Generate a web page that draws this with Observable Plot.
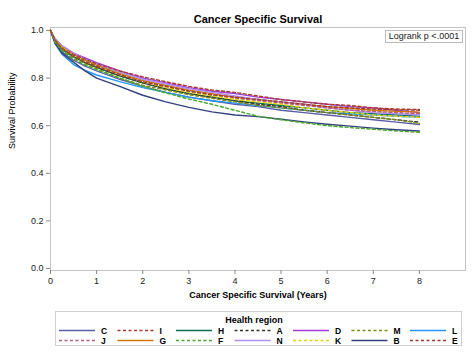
<!DOCTYPE html>
<html>
<head>
<meta charset="utf-8">
<script src="https://cdn.jsdelivr.net/npm/d3@7"></script>
<script src="https://cdn.jsdelivr.net/npm/@observablehq/plot@0.6"></script>
<style>
  body { margin: 0; background: white; font-family: "Liberation Sans", Arial, sans-serif; }
  #wrap { position: relative; width: 474px; height: 355px; }
  #logrank { position: absolute; left: 385px; top: 30px; width: 76px; height: 11px;
    border: 1px solid #bbb; font-size: 9px; line-height: 11px; text-align: center; color: #222; background: white; }
  #legend { position: absolute; left: 0; top: 310px; }
</style>
</head>
<body>
<div id="wrap">
  <div id="chart"></div>
  <div id="logrank">Logrank p &lt;.0001</div>
  <div id="legend"></div>
</div>
<script>
const title = "Cancer Specific Survival";
const xLabel = "Cancer Specific Survival (Years)";
const yLabel = "Survival Probability";
const legendTitle = "Health region";
const xTicks = [0, 1, 2, 3, 4, 5, 6, 7, 8];
const yTicks = [0, 0.2, 0.4, 0.6, 0.8, 1.0];

const times = [0, 0.1, 0.25, 0.5, 0.75, 1, 1.5, 2, 2.5, 3, 3.5, 4, 4.5, 5, 5.5, 6, 6.5, 7, 7.5, 8];

const survC = [1, .950, .910, .875, .850, .830, .795, .765, .740, .720, .705, .690, .680, .665, .655, .645, .635, .625, .615, .605];
const survI = [1, .960, .930, .900, .880, .860, .830, .805, .785, .765, .750, .740, .725, .710, .700, .690, .685, .675, .670, .668];
const survH = [1, .955, .920, .890, .865, .845, .810, .780, .755, .735, .720, .705, .695, .685, .675, .665, .655, .650, .645, .640];
const survA = [1, .955, .925, .890, .865, .845, .810, .780, .755, .735, .720, .705, .690, .680, .665, .655, .645, .635, .625, .615];
const survD = [1, .965, .935, .905, .885, .865, .830, .800, .780, .760, .745, .735, .720, .710, .700, .690, .680, .675, .665, .655];
const survM = [1, .955, .920, .885, .860, .840, .800, .770, .750, .730, .715, .700, .685, .675, .665, .655, .645, .635, .625, .610];
const survL = [1, .945, .900, .857, .832, .813, .785, .760, .740, .720, .705, .695, .685, .675, .665, .655, .650, .645, .640, .635];
const survJ = [1, .960, .925, .895, .870, .850, .815, .785, .765, .745, .730, .715, .705, .695, .685, .675, .665, .660, .655, .650];
const survG = [1, .960, .930, .900, .875, .855, .820, .790, .770, .750, .735, .720, .710, .700, .690, .680, .672, .665, .660, .657];
const survF = [1, .950, .915, .880, .855, .835, .800, .765, .738, .712, .690, .665, .640, .625, .612, .600, .592, .585, .578, .572];
const survN = [1, .965, .935, .905, .880, .860, .825, .795, .775, .755, .740, .725, .710, .700, .690, .675, .665, .655, .650, .645];
const survK = [1, .960, .930, .895, .870, .850, .815, .785, .760, .740, .725, .710, .700, .690, .675, .665, .655, .645, .640, .635];
const survB = [1, .945, .905, .867, .830, .800, .765, .728, .700, .677, .658, .645, .638, .627, .616, .606, .598, .590, .583, .578];
const survE = [1, .960, .925, .895, .870, .850, .815, .785, .765, .745, .730, .720, .710, .700, .690, .680, .675, .670, .667, .665];

const regions = ["C", "I", "H", "A", "D", "M", "L", "J", "G", "F", "N", "K", "B", "E"];
const survByRegion = {C: survC, I: survI, H: survH, A: survA, D: survD, M: survM, L: survL,
  J: survJ, G: survG, F: survF, N: survN, K: survK, B: survB, E: survE};
const dashedRegions = ["I", "A", "M", "J", "F", "K", "E"];
const colors = ["#5a5ea6", "#a83a30", "#0f6e5a", "#3a3326", "#9d3cdb", "#7f8e1f", "#2597fa",
  "#b26084", "#d17800", "#47a82a", "#b38ef3", "#e6d400", "#34407e", "#a23a2e"];

const rows = regions.flatMap(r => times.map((t, j) => ({region: r, t, s: survByRegion[r][j]})));
const solidRows = rows.filter(d => !dashedRegions.includes(d.region));
const dashedRows = rows.filter(d => dashedRegions.includes(d.region));

const chart = Plot.plot({
  width: 474, height: 306,
  marginTop: 27, marginBottom: 36, marginLeft: 50, marginRight: 9,
  style: {fontFamily: "'Liberation Sans', Arial, sans-serif", fontSize: "9px", color: "#222", background: "white"},
  x: {domain: [0, 9]},
  y: {domain: [0, 1], insetTop: 3, insetBottom: 2},
  color: {domain: regions, range: colors},
  marks: [
    Plot.frame({stroke: "#c4c4c4"}),
    Plot.axisX({ticks: xTicks, tickFormat: "d", tickSize: 4, tickPadding: 3, stroke: "#888", label: null}),
    Plot.axisY({ticks: yTicks, tickFormat: ".1f", tickSize: 4, tickPadding: 3, stroke: "#888", label: null}),
    Plot.line(solidRows, {x: "t", y: "s", z: "region", stroke: "region", strokeWidth: 1.4}),
    Plot.line(dashedRows, {x: "t", y: "s", z: "region", stroke: "region", strokeWidth: 1.4, strokeDasharray: "3,2.5"}),
    Plot.text([title], {frameAnchor: "top", dy: -12, fontWeight: "bold", fontSize: 11, fill: "#000"}),
    Plot.text([xLabel], {frameAnchor: "bottom", dy: 27, fontWeight: "bold", fontSize: 9, fill: "#000"}),
    Plot.text([yLabel], {frameAnchor: "left", dx: -38, rotate: -90, fontSize: 9, fill: "#000"})
  ]
});
document.getElementById("chart").appendChild(chart);

// Legend
const lg = d3.select("#legend").append("svg").attr("width", 474).attr("height", 40)
  .style("font-family", "'Liberation Sans', Arial, sans-serif");
lg.append("rect").attr("x", 55.5).attr("y", 1.5).attr("width", 406).attr("height", 34)
  .attr("fill", "white").attr("stroke", "#d0d0d0");
lg.append("text").attr("x", 254).attr("y", 13).attr("text-anchor", "middle")
  .attr("font-size", 9).attr("font-weight", "bold").attr("fill", "#000").text(legendTitle);
regions.forEach((r, i) => {
  const col = i % 7, row = Math.floor(i / 7);
  const x0 = 59 + col * 58.5, y0 = 20.5 + row * 10;
  lg.append("line").attr("x1", x0).attr("x2", x0 + 36).attr("y1", y0).attr("y2", y0)
    .attr("stroke", colors[i]).attr("stroke-width", 1.4)
    .attr("stroke-dasharray", dashedRegions.includes(r) ? "3,2.5" : null);
  lg.append("text").attr("x", x0 + 42).attr("y", y0 + 3).attr("font-size", 8.5)
    .attr("font-weight", "bold").attr("fill", "#000").text(r);
});
</script>
</body>
</html>
